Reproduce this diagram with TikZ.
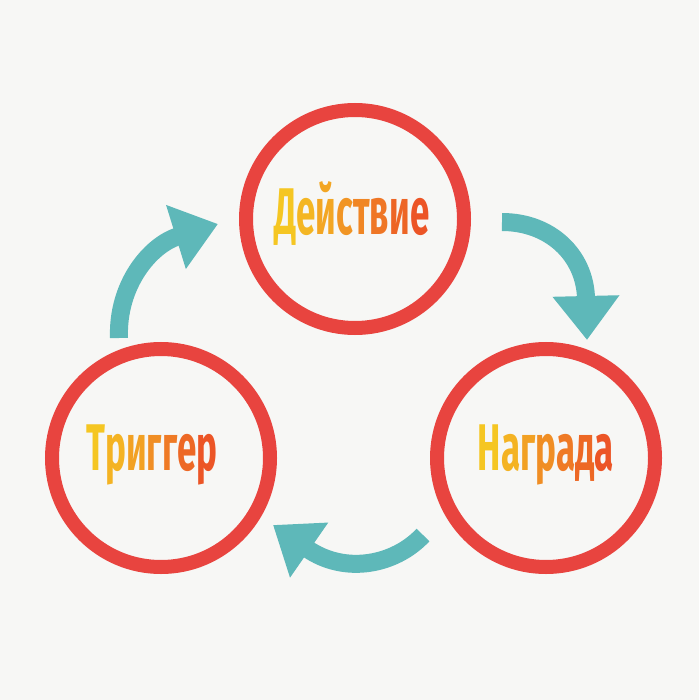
\documentclass[tikz,border=0pt]{standalone}
\usepackage{fontspec}
\setmainfont{Fira Sans}
\usepackage{xcolor}
\usetikzlibrary{arrows.meta}

\definecolor{paper}{HTML}{F7F7F5}
\definecolor{ringred}{HTML}{E8443F}
\definecolor{loopteal}{HTML}{5EB8B9}
\definecolor{wordyellow}{HTML}{F5C622}
\definecolor{wordred}{HTML}{EC5526}

\tikzset{
  stage/.style={circle, draw=ringred, line width=14pt, minimum size=218pt, inner sep=0pt},
  word/.style={font=\fontsize{66}{66}\selectfont\bfseries},
  loop/.style={draw=loopteal, line width=18pt, -{Triangle[length=44pt, width=64pt]}}
}

\begin{document}
\begin{tikzpicture}[x=1pt, y=-1pt]
    % page
    \fill[paper] (0,0) rectangle (699,700);
    \useasboundingbox (0,0) rectangle (699,700);

    % the three stages
    \node[stage] (deystvie) at (355,219) {};
    \node[stage] (trigger) at (161,458) {};
    \node[stage] (nagrada) at (546,458) {};

    % words, yellow to red letter by letter
    \node[word] (wdeystvie) at (352,214) {\scalebox{0.53}[1]{%
      \textcolor{wordred!0!wordyellow}{Д}\textcolor{wordred!14!wordyellow}{е}%
      \textcolor{wordred!28!wordyellow}{й}\textcolor{wordred!43!wordyellow}{с}%
      \textcolor{wordred!57!wordyellow}{т}\textcolor{wordred!71!wordyellow}{в}%
      \textcolor{wordred!86!wordyellow}{и}\textcolor{wordred!100!wordyellow}{е}}};
    \node[word] (wtrigger) at (152,455) {\scalebox{0.53}[1]{%
      \textcolor{wordred!0!wordyellow}{Т}\textcolor{wordred!17!wordyellow}{р}%
      \textcolor{wordred!33!wordyellow}{и}\textcolor{wordred!50!wordyellow}{г}%
      \textcolor{wordred!67!wordyellow}{г}\textcolor{wordred!83!wordyellow}{е}%
      \textcolor{wordred!100!wordyellow}{р}}};
    \node[word] (wnagrada) at (546,455) {\scalebox{0.53}[1]{%
      \textcolor{wordred!0!wordyellow}{Н}\textcolor{wordred!17!wordyellow}{а}%
      \textcolor{wordred!33!wordyellow}{г}\textcolor{wordred!50!wordyellow}{р}%
      \textcolor{wordred!67!wordyellow}{а}\textcolor{wordred!83!wordyellow}{д}%
      \textcolor{wordred!100!wordyellow}{а}}};

    % arrow ends
    \coordinate (upfrom) at (119,338);
    \coordinate (upto) at (218,224);
    \coordinate (downfrom) at (502,222);
    \coordinate (downto) at (587,340);
    \coordinate (backfrom) at (423,535);
    \coordinate (backto) at (273,525);

    % cycle arrows
    \draw[loop] (upfrom) .. controls (117,285) and (150,245) .. (upto);
    \draw[loop] (downfrom) .. controls (550,222) and (585,255) .. (downto);
    \draw[loop] (backfrom) .. controls (395,565) and (345,575) .. (backto);
\end{tikzpicture}
\end{document}
